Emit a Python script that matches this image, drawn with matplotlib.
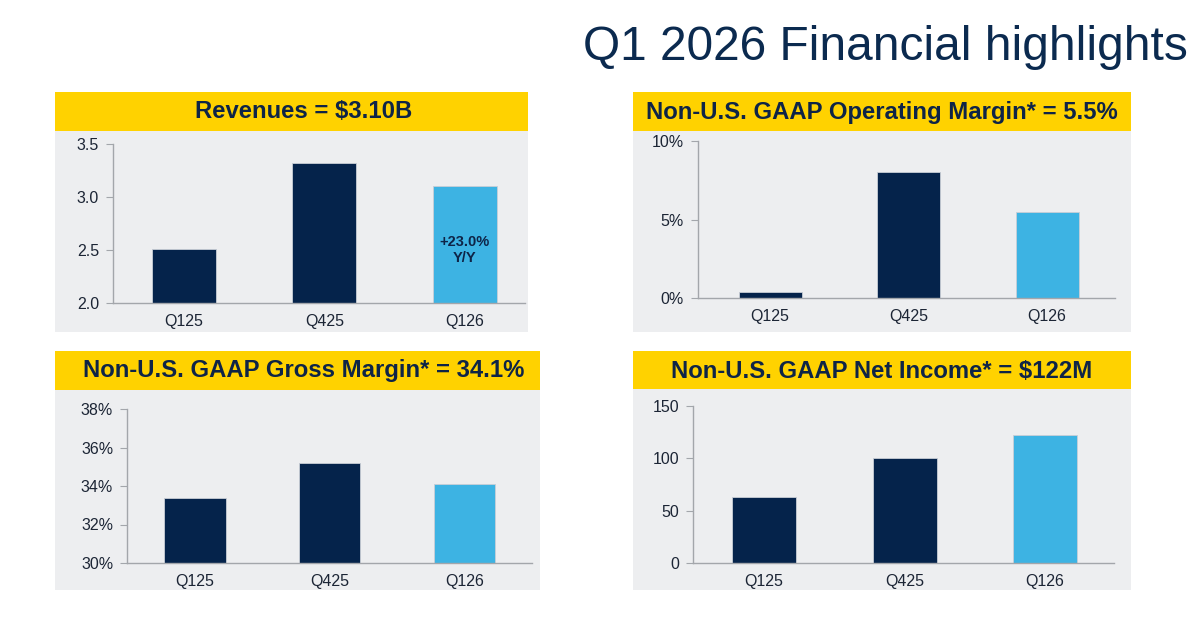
import matplotlib.pyplot as plt
from matplotlib.patches import Rectangle

plt.rcParams['font.family'] = ['Liberation Sans', 'DejaVu Sans']

W, H = 1203, 624

quarters = ['Q125', 'Q425', 'Q126']
revenues = [2.51, 3.32, 3.10]
op_margin = [0.4, 8.0, 5.5]
gross_margin = [33.4, 35.2, 34.1]
net_income = [63, 100, 122]

titles = ['Revenues = $3.10B',
          'Non-U.S. GAAP Operating Margin* = 5.5%',
          'Non-U.S. GAAP Gross Margin* = 34.1%',
          'Non-U.S. GAAP Net Income* = $122M']

navy = '#05234b'
light = '#3db3e3'
yellow = '#ffd200'
panel_bg = '#edeef0'
text_col = '#1c2535'
spine_col = '#a3a6ab'


def frac(x0, y0, x1, y1):
    # pixel box (top-left origin) -> figure fraction rect
    return [x0 / W, 1 - y1 / H, (x1 - x0) / W, (y1 - y0) / H]


fig = plt.figure(figsize=(W / 100, H / 100), dpi=100)
fig.patch.set_facecolor('white')

fig.text(1188 / W, 1 - 47 / H, 'Q1 2026 Financial highlights', ha='right', va='center',
         fontsize=34.5, color='#0b2a4f')

# (gray box, yellow bar, title centre x, axes box, ylim, yticks, ticklabels, xlim, values)
panels = [
    ((55, 131, 528, 332), (55, 92, 528, 131), 304, (113, 144, 525, 303),
     (2.0, 3.5), [2.0, 2.5, 3.0, 3.5], ['2.0', '2.5', '3.0', '3.5'], (-0.505, 2.43), revenues),
    ((633, 131, 1131, 332), (633, 92, 1131, 131), 882, (698, 141, 1115, 298),
     (0, 10), [0, 5, 10], ['0%', '5%', '10%'], (-0.52, 2.49), op_margin),
    ((55, 390, 540, 590), (55, 351, 540, 390), 304, (127, 409, 532, 563),
     (30, 38), [30, 32, 34, 36, 38], ['30%', '32%', '34%', '36%', '38%'], (-0.504, 2.5), gross_margin),
    ((633, 389, 1131, 590), (633, 351, 1131, 389), 882, (693, 406, 1114, 563),
     (0, 150), [0, 50, 100, 150], ['0', '50', '100', '150'], (-0.505, 2.49), net_income),
]

for i, (gbox, ybox, tx, abox, ylim, yt, ytl, xlim, vals) in enumerate(panels):
    g = frac(*gbox)
    fig.patches.append(Rectangle((g[0], g[1]), g[2], g[3], transform=fig.transFigure,
                                 facecolor=panel_bg, edgecolor='none', zorder=-5))
    y = frac(*ybox)
    fig.patches.append(Rectangle((y[0], y[1]), y[2], y[3], transform=fig.transFigure,
                                 facecolor=yellow, edgecolor='none', zorder=-5))
    fig.text(tx / W, 1 - (ybox[1] + 20) / H, titles[i], ha='center', va='center',
             fontsize=17.2, fontweight='bold', color='#0e2447')

    ax = fig.add_axes(frac(*abox))
    ax.set_zorder(5)
    ax.patch.set_alpha(0)
    ax.bar(range(3), vals, width=0.455, color=[navy, navy, light],
           edgecolor='#c9ced6', linewidth=0.6)
    ax.set_ylim(*ylim)
    ax.set_xlim(*xlim)
    ax.set_yticks(yt)
    ax.set_yticklabels(ytl)
    ax.set_xticks(range(3))
    ax.set_xticklabels(quarters)
    for s in ['top', 'right']:
        ax.spines[s].set_visible(False)
    for s in ['left', 'bottom']:
        ax.spines[s].set_color(spine_col)
        ax.spines[s].set_linewidth(1)
    ax.tick_params(axis='y', length=5, color=spine_col, labelsize=11.5, labelcolor=text_col, pad=5)
    ax.tick_params(axis='x', length=0, labelsize=11.5, labelcolor=text_col, pad=8)

    if i == 0:
        ax.text(2, 2.5, '+23.0%\nY/Y', ha='center', va='center', fontsize=10.5,
                fontweight='bold', color='#0e2447', linespacing=1.25)

fig.savefig('out.png', dpi=100)
